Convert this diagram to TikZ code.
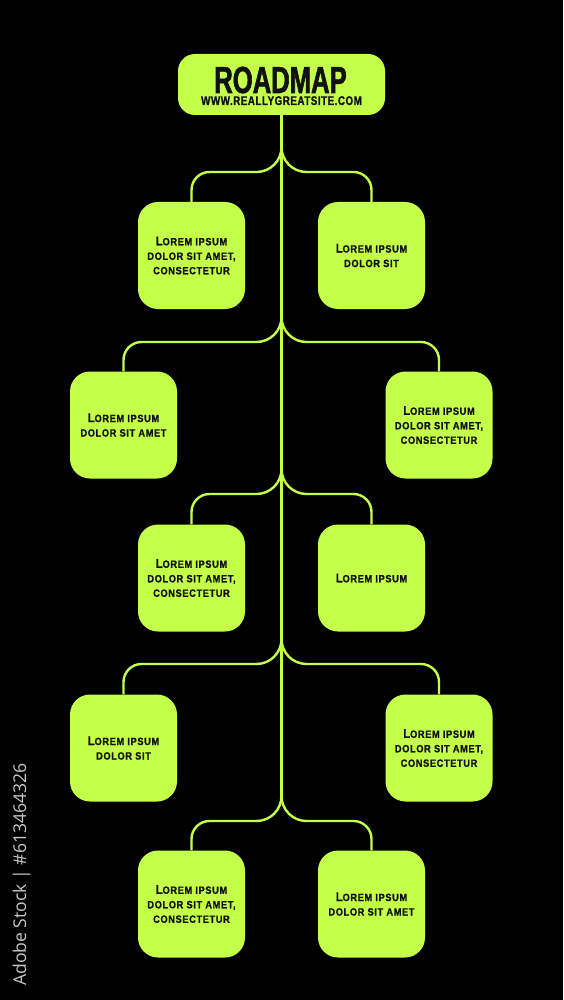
\documentclass[tikz,border=0pt]{standalone}
\usepackage{fontspec}
\setmainfont{Liberation Sans}
\newfontfamily\titlefont{Liberation Sans}[FakeStretch=0.68,FakeBold=1.5]
\newfontfamily\urlfont{Liberation Sans}[FakeStretch=0.78,LetterSpace=4,FakeBold=1]
\newfontfamily\boxfont{Liberation Sans}[FakeStretch=0.88,LetterSpace=6,FakeBold=1]
\newfontfamily\wmfont{Open Sans}
\definecolor{lime}{RGB}{196,255,74}
\definecolor{ink}{RGB}{17,17,17}
\definecolor{wm}{RGB}{200,200,200}
\newcommand\myL{{\fontsize{12.6}{14.5}\selectfont L}}
\tikzset{
  stepbox/.style={rectangle, rounded corners=20pt, fill=lime, minimum width=107pt,
    minimum height=107pt, inner sep=0pt, align=center, text=ink,
    font=\fontsize{10.5}{14.5}\boxfont\bfseries},
  titlebox/.style={rectangle, rounded corners=17pt, fill=lime, minimum width=207pt,
    minimum height=61pt, inner sep=0pt},
  link/.style={draw=lime, line width=2.4pt},
}
\begin{document}
\begin{tikzpicture}[x=1pt,y=-1pt]
\fill[black] (0,0) rectangle (563,1000);
\useasboundingbox (0,0) rectangle (563,1000);

% title
\node[titlebox] (title) at (281.5,84.5) {};
\node[anchor=base, inner sep=0pt, text=ink, font=\fontsize{37.7}{40}\titlefont\bfseries] (t1) at (280.5,93) {ROADMAP};
\node[anchor=base, inner sep=0pt, text=ink, font=\fontsize{12.6}{14}\urlfont\bfseries] (t2) at (281.5,105) {WWW.REALLYGREATSITE.COM};

% branch start points on the trunk
\coordinate (s1) at (281.5,147);
\coordinate (s2) at (281.5,317);
\coordinate (s3) at (281.5,469);
\coordinate (s4) at (281.5,639);
\coordinate (s5) at (281.5,796);

% boxes
\node[stepbox] (L1) at (191.5,255.5) {\myL OREM IPSUM\\DOLOR SIT AMET,\\CONSECTETUR};
\node[stepbox] (R1) at (371.5,255.5) {\myL OREM IPSUM\\DOLOR SIT};
\node[stepbox] (L2) at (123.5,425) {\myL OREM IPSUM\\DOLOR SIT AMET};
\node[stepbox] (R2) at (439,425) {\myL OREM IPSUM\\DOLOR SIT AMET,\\CONSECTETUR};
\node[stepbox] (L3) at (191.5,578) {\myL OREM IPSUM\\DOLOR SIT AMET,\\CONSECTETUR};
\node[stepbox] (R3) at (371.5,578) {\myL OREM IPSUM};
\node[stepbox] (L4) at (123.5,748) {\myL OREM IPSUM\\DOLOR SIT};
\node[stepbox] (R4) at (439,748) {\myL OREM IPSUM\\DOLOR SIT AMET,\\CONSECTETUR};
\node[stepbox] (L5) at (191.5,904) {\myL OREM IPSUM\\DOLOR SIT AMET,\\CONSECTETUR};
\node[stepbox] (R5) at (371.5,904) {\myL OREM IPSUM\\DOLOR SIT AMET};

% trunk
\draw[link] (title.south) -- (s5);

% branches
\foreach \i in {1,...,5}{
  \draw[link] (s\i) .. controls +(0,13.8) and +(13.8,0) .. ++(-25,25)
    [rounded corners=18pt] -| (L\i.north);
  \draw[link] (s\i) .. controls +(0,13.8) and +(-13.8,0) .. ++(25,25)
    [rounded corners=18pt] -| (R\i.north);
}

% stock id strip
\node[rotate=90, anchor=east, text=wm, font=\fontsize{17.6}{20}\wmfont, inner sep=0pt] (wmk) at (21.5,763) {Adobe Stock | \#613464326};
\end{tikzpicture}
\end{document}
